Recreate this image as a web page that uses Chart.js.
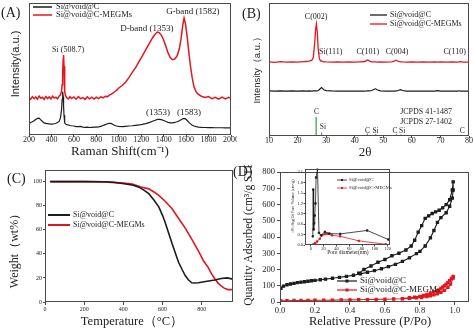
<!DOCTYPE html>
<html>
<head>
<meta charset="utf-8">
<title>Si@void@C characterisation</title>
<script src="https://cdn.jsdelivr.net/npm/chart.js@4.4.1/dist/chart.umd.min.js"></script>
<style>
  html, body { margin: 0; padding: 0; background: #fff; }
  #page { position: relative; width: 474px; height: 330px; overflow: hidden; font-family: "Liberation Serif", "Times New Roman", serif; color: #222; }
  .panel { position: absolute; }
  .tag { position: absolute; font-size: 14px; line-height: 14px; white-space: nowrap; }
</style>
</head>
<body>
<div id="page">
  <div class="panel" style="left:0;top:0;width:237px;height:165px"><canvas id="ramanChart"></canvas></div>
  <div class="panel" style="left:237px;top:0;width:237px;height:165px"><canvas id="xrdChart"></canvas></div>
  <div class="panel" style="left:0;top:165px;width:237px;height:165px"><canvas id="tgaChart"></canvas></div>
  <div class="panel" style="left:237px;top:165px;width:237px;height:165px"><canvas id="betChart"></canvas></div>
  <div class="panel" style="left:290px;top:164px;width:105px;height:94px"><canvas id="poreChart"></canvas></div>
  <div class="tag" style="left:1px;top:6px">(A)</div>
  <div class="tag" style="left:242px;top:7px">(B)</div>
  <div class="tag" style="left:7px;top:172px">(C)</div>
  <div class="tag" style="left:233px;top:165px">(D)</div>
</div>
<script>
const sampleNames = ['Si@void@C', 'Si@void@C-MEGMs'];

// (A) Raman spectra
const ramanShift = [
  200, 215, 230, 245, 260, 275, 290, 305, 320, 335,
  350, 365, 380, 395, 410, 425, 440, 455, 470, 480,
  490, 495, 500, 505, 508, 512, 516, 520, 525, 535,
  550, 565, 580, 600, 620, 640, 660, 680, 700, 720,
  740, 760, 780, 800, 820, 840, 860, 880, 900, 915,
  930, 945, 960, 980, 1000, 1030, 1060, 1090, 1120, 1150,
  1180, 1210, 1240, 1270, 1300, 1325, 1345, 1360, 1380, 1400,
  1420, 1440, 1460, 1480, 1500, 1520, 1540, 1555, 1570, 1582,
  1595, 1610, 1625, 1640, 1655, 1670, 1690, 1710, 1740, 1770,
  1800, 1830, 1860, 1890, 1920, 1950, 1980, 2000
];
const ramanMEGMs = [
  28.5, 27, 29, 27.5, 28.8, 27.2, 29.5, 27.8, 28.6, 27,
  29.2, 27.6, 28.9, 27.3, 29.4, 28, 28.7, 27.4, 29.6, 30.5,
  33, 38, 47, 58, 60.6, 52, 40, 33, 30, 28.4,
  27.3, 29, 27.6, 28.8, 27.1, 29.1, 27.5, 28.3, 27, 28.9,
  27.4, 28.6, 27.2, 28.7, 27.6, 28.9, 28.2, 29.4, 29.1, 30.2,
  30.8, 31.5, 32.6, 33.8, 35.6, 37.5, 40, 43.5, 47.5, 51,
  55.5, 60, 64.5, 69, 73.5, 76.5, 78, 77.6, 75.5, 72,
  67, 62, 58.5, 57, 57.6, 60, 65.5, 73, 83, 88.6,
  84, 74, 62, 51.5, 43, 36.5, 32.5, 30.8, 29.2, 28.4,
  29.1, 27.5, 28.6, 27.2, 28.7, 27.4, 28.5, 27.8
];
const ramanBare = [
  8.8, 9.5, 10, 10.8, 11.8, 12.6, 12.8, 11.5, 10.2, 9.2,
  8.8, 8.6, 8.4, 8.3, 8.3, 8.5, 8.9, 9.4, 10.5, 13,
  19, 27, 32.8, 29, 22, 15, 11, 9.2, 8.4, 7.8,
  7.6, 7.2, 7, 6.8, 6.4, 6.3, 6.5, 6, 5.8, 5.9,
  5.7, 5.8, 5.9, 6, 6.2, 6.5, 7.2, 7.9, 8.5, 8.9,
  8.8, 8.2, 7.4, 6.8, 6.5, 6.4, 6.6, 6.8, 7, 7.3,
  7.6, 8, 8.6, 9.4, 10.4, 11.2, 11.8, 11.9, 11.6, 11,
  10.2, 9.6, 9.2, 9.2, 9.5, 10, 10.8, 11.6, 12.3, 12.6,
  12.2, 11, 9.6, 8.4, 7.4, 6.8, 6.3, 6, 5.8, 5.7,
  5.6, 5.6, 5.5, 5.5, 5.5, 5.4, 5.4, 5.4
];
const ramanTicks = [200, 400, 600, 800, 1000, 1200, 1400, 1600, 1800, 2000];

// (B) XRD patterns and reference cards
const twoTheta = [
  10, 12, 14, 16, 18, 20, 22, 23, 24, 25,
  25.5, 26, 26.3, 26.6, 26.9, 27.2, 27.6, 28, 28.4, 28.8,
  29.3, 30, 32, 34, 36, 38, 40, 42, 43.5, 44.2,
  44.6, 45.2, 46, 46.8, 47.3, 47.8, 49, 51, 53, 54,
  54.5, 55, 55.6, 56.1, 56.7, 58, 60, 62, 64, 66,
  68, 69, 70, 72, 74, 76, 76.5, 77, 78, 80
];
const xrdMEGMs = [
  55.8, 55.4, 55.9, 55.5, 55.8, 55.6, 55.9, 56, 56.3, 57,
  59, 70, 80, 84.2, 78, 66, 58.5, 56.5, 56.4, 56,
  55.8, 55.7, 55.6, 55.8, 55.5, 55.7, 55.6, 55.8, 56, 56.8,
  57.2, 56.3, 55.8, 55.7, 55.8, 55.6, 55.7, 55.6, 55.8, 56.4,
  57, 56.4, 55.9, 55.8, 55.7, 55.6, 55.7, 55.6, 55.7, 55.6,
  55.7, 55.6, 55.7, 55.6, 55.7, 55.6, 55.7, 55.9, 55.6, 55.5
];
const xrdBare = [
  33.9, 33.8, 33.9, 33.8, 33.9, 33.8, 33.9, 33.8, 33.9, 33.8,
  33.9, 33.9, 34, 34, 34, 34.2, 34.8, 35.8, 36.4, 35.6,
  34.6, 34.1, 33.9, 33.8, 33.8, 33.7, 33.8, 33.8, 33.8, 33.9,
  34, 33.9, 34.2, 35.2, 35.5, 34.8, 34, 33.8, 33.8, 33.8,
  33.9, 34, 34.6, 34.8, 34.2, 33.8, 33.8, 33.8, 33.7, 33.8,
  33.8, 34.1, 33.8, 33.7, 33.8, 33.8, 34, 33.8, 33.7, 33.7
];
const cardCPos = [26.5, 44.4, 54.6, 77.2];      // JCPDS 41-1487
const cardCHeight = [14.5, 1.8, 1.3, 0.8];
const cardSiPos = [28.4, 47.3, 56.1];           // JCPDS 27-1402
const cardSiHeight = [2.6, 1.5, 1.1];
const xrdTicks = [10, 20, 30, 40, 50, 60, 70, 80];

// (C) TGA curves
const tgaTempBare = [25, 100, 200, 300, 350, 413, 450, 480, 505, 530, 555, 581, 600, 615, 632, 648, 665, 682, 700, 716, 732, 749, 765, 783, 820, 867, 900, 930, 960];
const tgaBare = [100, 100, 100, 99.9, 99.5, 98, 97, 95.4, 93, 90, 85, 79, 72, 65.5, 57, 49, 41, 33, 27, 22, 18.5, 16, 15.8, 16, 17, 18.3, 19.5, 20, 19];
const tgaTempMEGMs = [30, 200, 300, 400, 446, 490, 530, 560, 581, 615, 648, 680, 716, 750, 783, 810, 833, 850, 867, 885, 900, 915, 934, 960];
const tgaMEGMs = [100, 100, 99.8, 98.8, 98, 95.5, 94, 91, 88.6, 83.5, 77.7, 70, 61.4, 52, 42.4, 34, 28.8, 23.5, 19.3, 15.5, 13.3, 11.5, 10.3, 10.3];
const tgaXTicks = [0, 200, 400, 600, 800];
const tgaYTicks = [0, 20, 40, 60, 80, 100];

// (D) N2 isotherms: adsorption then desorption branch
const adsPBare = [0.005, 0.02, 0.04, 0.06, 0.08, 0.1, 0.12, 0.14, 0.16, 0.18, 0.2, 0.23, 0.26, 0.3, 0.34, 0.38, 0.42, 0.46, 0.5, 0.54, 0.58, 0.62, 0.66, 0.7, 0.74, 0.78, 0.8, 0.83, 0.86, 0.88, 0.9, 0.92, 0.95, 0.97, 0.985, 0.99];
const adsQBare = [85, 98, 106, 111, 115, 119, 122, 125, 128, 131, 133, 137, 141, 146, 152, 158, 165, 173, 183, 193, 205, 218, 232, 250, 272, 298, 312, 345, 395, 440, 490, 520, 550, 590, 640, 690];
const desPBare = [0.99, 0.985, 0.97, 0.95, 0.93, 0.91, 0.89, 0.87, 0.85, 0.83, 0.81, 0.79, 0.77, 0.75, 0.72, 0.68, 0.64, 0.6, 0.56, 0.52, 0.48, 0.45];
const desQBare = [740, 690, 630, 600, 580, 565, 555, 545, 530, 515, 470, 430, 380, 345, 320, 300, 285, 262, 245, 222, 200, 178];
const adsPMEGMs = [0.005, 0.04, 0.08, 0.12, 0.16, 0.2, 0.25, 0.3, 0.35, 0.4, 0.45, 0.5, 0.55, 0.6, 0.65, 0.7, 0.74, 0.78, 0.81, 0.84, 0.86, 0.88, 0.9, 0.92, 0.94, 0.96, 0.975, 0.99];
const adsQMEGMs = [7, 8, 9, 9.5, 10, 10.5, 11, 11.5, 12, 13, 14, 15, 16, 17, 18.5, 20, 22, 25, 28, 33, 38, 44, 51, 60, 72, 90, 110, 148];
const desPMEGMs = [0.99, 0.98, 0.97, 0.96, 0.95, 0.94, 0.93, 0.92, 0.9, 0.88, 0.86, 0.84, 0.82, 0.8, 0.77, 0.74, 0.7];
const desQMEGMs = [158, 145, 132, 120, 110, 100, 92, 84, 72, 62, 54, 46, 40, 35, 30, 26, 21];
const betXTicks = [0, 0.2, 0.4, 0.6, 0.8, 1.0];
const betYTicks = [0, 100, 200, 300, 400, 500, 600, 700, 800];

// (D) inset: BJH pore size distribution
const poreDiaBare = [3.2, 3.8, 4.5, 5.2, 6.2, 7.3, 8.3, 10.5, 12.8, 16, 22, 29, 46, 88, 121];
const poreVolBare = [0.25, 1.6, 0.45, 0.62, 0.85, 1.2, 1.95, 2.2, 0.35, 0.28, 0.38, 0.33, 0.32, 0.42, 0.16];
const poreDiaMEGMs = [3.2, 5, 7, 10, 14, 18, 22, 26, 33, 46, 75, 117];
const poreVolMEGMs = [0.01, 0.02, 0.05, 0.1, 0.18, 0.28, 0.32, 0.32, 0.28, 0.25, 0.12, 0.02];
const poreXTicks = [0, 20, 40, 60, 80, 100, 120];
const poreYTicks = [0, 0.3, 0.6, 0.9, 1.2, 1.5, 1.8, 2.1];

const SERIF = '"Liberation Serif", "Times New Roman", serif';
const SANS = '"Liberation Sans", Arial, sans-serif';
const INK = '#222';
const FRAME = '#4a4a4a';
const BLACK = '#1c1c1c';
const RED = '#e3161d';
const GREEN = '#33a043';
const BLUE = '#6d7fd8';

function pts(xs, ys) {
  return xs.map((x, i) => ({ x: x, y: ys[i] }));
}

// vertical reference sticks, separated by gaps
function sticks(pos, heights) {
  const out = [];
  pos.forEach((p, i) => { out.push({ x: p, y: 0 }, { x: p, y: heights[i] }, { x: p, y: null }); });
  return out;
}

function font(size, family) {
  return size + 'px ' + (family || SERIF);
}

function axis(cfg) {
  return {
    type: 'linear',
    min: cfg.min,
    max: cfg.max,
    afterFit: s => { if (s.isHorizontal()) s.height = cfg.size; else s.width = cfg.size; },
    afterBuildTicks: s => { s.ticks = (cfg.ticks || []).map(v => ({ value: v })); },
    grid: { drawOnChartArea: false, drawTicks: !!cfg.ticks, tickLength: cfg.tickLength ?? 2, color: FRAME },
    border: { display: false },
    ticks: {
      display: !!cfg.ticks,
      font: { family: SERIF, size: cfg.font || 8 },
      color: INK,
      padding: cfg.padding ?? 0,
      maxRotation: 0,
      autoSkip: false,
      callback: cfg.format || (v => String(v))
    }
  };
}

function options(pad, xAxis, yAxis) {
  return {
    responsive: true,
    maintainAspectRatio: false,
    animation: false,
    layout: { padding: pad },
    plugins: { legend: { display: false }, tooltip: { enabled: false } },
    elements: { point: { radius: 0 }, line: { tension: 0 } },
    scales: { x: axis(xAxis), y: axis(yAxis) }
  };
}

// box around the plotting area
const framePlugin = {
  id: 'frame',
  afterDraw(chart) {
    const a = chart.chartArea;
    const ctx = chart.ctx;
    ctx.save();
    ctx.strokeStyle = FRAME;
    ctx.lineWidth = 1;
    ctx.strokeRect(Math.round(a.left) + 0.5, Math.round(a.top) + 0.5, Math.round(a.right - a.left) - 1, Math.round(a.bottom - a.top) - 1);
    ctx.restore();
  }
};

// text items: `at` in data units, or px/py in canvas pixels
function textLayer(items) {
  return {
    id: 'textLayer',
    afterDraw(chart) {
      const ctx = chart.ctx;
      items.forEach(t => {
        const x = t.at ? chart.scales.x.getPixelForValue(t.at[0]) : t.px;
        const y = t.at ? chart.scales.y.getPixelForValue(t.at[1]) : t.py;
        ctx.save();
        ctx.font = t.font;
        ctx.fillStyle = t.color || INK;
        ctx.textAlign = t.align || 'center';
        ctx.textBaseline = 'middle';
        ctx.translate(x, y);
        if (t.rotate) ctx.rotate(t.rotate);
        ctx.fillText(t.text, 0, 0);
        ctx.restore();
      });
    }
  };
}

function keyBox(k) {
  return {
    id: 'keyBox',
    afterDraw(chart) {
      const ctx = chart.ctx;
      ctx.save();
      k.colors.forEach((c, i) => {
        const y = k.y + i * k.gap;
        ctx.strokeStyle = c;
        ctx.lineWidth = k.width;
        ctx.beginPath();
        ctx.moveTo(k.x, y);
        ctx.lineTo(k.x + k.len, y);
        ctx.stroke();
        if (k.marker) {
          ctx.fillStyle = c;
          ctx.fillRect(k.x + k.len / 2 - k.marker / 2, y - k.marker / 2, k.marker, k.marker);
        }
        ctx.fillStyle = INK;
        ctx.font = k.font;
        ctx.textAlign = 'left';
        ctx.textBaseline = 'middle';
        ctx.fillText(sampleNames[i], k.x + k.len + k.pad, y);
      });
      ctx.restore();
    }
  };
}

const UP = -Math.PI / 2;

// (A) Raman
new Chart(document.getElementById('ramanChart'), {
  type: 'line',
  data: {
    datasets: [
      { label: sampleNames[0], data: pts(ramanShift, ramanBare), borderColor: BLACK, borderWidth: 1.2 },
      { label: sampleNames[1], data: pts(ramanShift, ramanMEGMs), borderColor: RED, borderWidth: 1.5 }
    ]
  },
  options: options({ top: 3, right: 6, left: 0, bottom: 0 },
    { min: 200, max: 2000, size: 30, ticks: ramanTicks, font: 8, tickLength: 2, padding: -2 },
    { min: 0, max: 100, size: 29 }),
  plugins: [framePlugin, keyBox({ x: 33, y: 7, gap: 8, len: 19, width: 1.5, pad: 4, font: font(8.5), colors: [BLACK, RED] }),
    textLayer([
      { text: 'Si (508.7)', at: [548, 64.5], font: font(8) },
      { text: 'D-band (1353)', at: [1251, 80.3], font: font(9) },
      { text: 'G-band (1582)', at: [1661, 93.2], font: font(9) },
      { text: '(1353)', at: [1349, 16.7], font: font(9) },
      { text: '(1583)', at: [1626, 16.7], font: font(9) },
      { text: 'Raman Shift(cm⁻¹)', px: 120, py: 152, font: font(13) },
      { text: 'Intensity(a.u.)', px: 16, py: 64, font: font(11, SANS), rotate: UP }
    ])]
});

// (B) XRD
new Chart(document.getElementById('xrdChart'), {
  type: 'line',
  data: {
    datasets: [
      { label: sampleNames[0], data: pts(twoTheta, xrdBare), borderColor: BLACK, borderWidth: 1.2 },
      { label: sampleNames[1], data: pts(twoTheta, xrdMEGMs), borderColor: RED, borderWidth: 1.3 },
      { label: 'C', data: sticks(cardCPos, cardCHeight), borderColor: GREEN, borderWidth: 1.2, spanGaps: false },
      { label: 'Si', data: sticks(cardSiPos, cardSiHeight), borderColor: BLUE, borderWidth: 1.2, spanGaps: false }
    ]
  },
  options: options({ top: 3, right: 5, left: 0, bottom: 0 },
    { min: 10, max: 80, size: 29, ticks: xrdTicks, font: 8, tickLength: 2, padding: -2 },
    { min: 0, max: 100, size: 32 }),
  plugins: [framePlugin, keyBox({ x: 133, y: 15, gap: 9, len: 17, width: 1.3, pad: 3, font: font(8), colors: [BLACK, RED] }),
    textLayer([
      { text: 'C(002)', at: [26.5, 89.7], font: font(8) },
      { text: 'Si(111)', at: [31.6, 63.4], font: font(8) },
      { text: 'C(101)', at: [44.6, 63.4], font: font(8) },
      { text: 'C(004)', at: [54.8, 63.4], font: font(8) },
      { text: 'C(110)', at: [75, 63.4], font: font(8) },
      { text: 'C', at: [26.6, 18.3], font: font(7.5) },
      { text: 'Si', at: [28.9, 7], font: font(7.5) },
      { text: 'C', at: [44.5, 3.8], font: font(7.5) },
      { text: 'Si', at: [47.3, 3.8], font: font(7.5) },
      { text: 'C', at: [54.1, 3.8], font: font(7.5) },
      { text: 'Si', at: [56.6, 3.8], font: font(7.5) },
      { text: 'C', at: [77.6, 3.8], font: font(7.5) },
      { text: 'JCPDS 41-1487', at: [55.9, 18], font: font(8), align: 'left' },
      { text: 'JCPDS 27-1402', at: [55.9, 10.5], font: font(8), align: 'left' },
      { text: '2θ', px: 128, py: 153, font: font(13) },
      { text: 'Intensity（a.u.）', px: 20, py: 68, font: font(9.5, SANS), rotate: UP }
    ])]
});

// (C) TGA
new Chart(document.getElementById('tgaChart'), {
  type: 'line',
  data: {
    datasets: [
      { label: sampleNames[0], data: pts(tgaTempBare, tgaBare), borderColor: BLACK, borderWidth: 1.6 },
      { label: sampleNames[1], data: pts(tgaTempMEGMs, tgaMEGMs), borderColor: RED, borderWidth: 1.6 }
    ]
  },
  options: options({ top: 2, right: 4, left: 0, bottom: 0 },
    { min: 0, max: 960, size: 28, ticks: tgaXTicks, font: 6, tickLength: 3, padding: 1 },
    { min: 0, max: 110, size: 45, ticks: tgaYTicks, font: 6, tickLength: 2, padding: 1 }),
  plugins: [framePlugin, keyBox({ x: 48, y: 50, gap: 10, len: 22, width: 2, pad: 3, font: font(8), colors: [BLACK, RED] }),
    textLayer([
      { text: 'Temperature（°C）', px: 132, py: 157, font: font(12.5) },
      { text: 'Weight（wt%）', px: 15, py: 83, font: font(12), rotate: UP }
    ])]
});

// (D) N2 adsorption-desorption isotherms
new Chart(document.getElementById('betChart'), {
  type: 'line',
  data: {
    datasets: [
      { label: sampleNames[0], data: pts(adsPBare, adsQBare).concat(pts(desPBare, desQBare)), borderColor: BLACK, backgroundColor: BLACK, borderWidth: 1.1, pointStyle: 'rect', pointRadius: 1.6 },
      { label: sampleNames[1], data: pts(adsPMEGMs, adsQMEGMs).concat(pts(desPMEGMs, desQMEGMs)), borderColor: RED, backgroundColor: RED, borderWidth: 1.1, pointStyle: 'rect', pointRadius: 1.6 }
    ]
  },
  options: options({ top: 0, right: 5, left: 0, bottom: 0 },
    { min: 0, max: 1.08, size: 28, ticks: betXTicks, font: 8.5, tickLength: 3, padding: 1, format: v => v.toFixed(1) },
    { min: 0, max: 800, size: 43, ticks: betYTicks, font: 8.5, tickLength: 3, padding: 2 }),
  plugins: [framePlugin, keyBox({ x: 100, y: 116, gap: 9, len: 20, width: 1.2, pad: 3, marker: 3, font: font(9), colors: [BLACK, RED] }),
    textLayer([
      { text: 'Relative Pressure (P/Po)', px: 133, py: 157, font: font(12.5) },
      { text: 'Quantity Adsorbed (cm³/g STP)', px: 12, py: 67, font: font(11.5), rotate: UP }
    ])]
});

// (D) inset: pore size distribution
new Chart(document.getElementById('poreChart'), {
  type: 'line',
  data: {
    datasets: [
      { label: sampleNames[0], data: pts(poreDiaBare, poreVolBare), borderColor: BLACK, backgroundColor: BLACK, borderWidth: 0.8, pointStyle: 'rect', pointRadius: 1.1 },
      { label: sampleNames[1], data: pts(poreDiaMEGMs, poreVolMEGMs), borderColor: RED, backgroundColor: RED, borderWidth: 0.8, pointStyle: 'rect', pointRadius: 1.1 }
    ]
  },
  options: options({ top: 3, right: 4, left: 0, bottom: 0 },
    { min: -9, max: 124, size: 13, ticks: poreXTicks, font: 4.5, tickLength: 1.5, padding: 0 },
    { min: 0, max: 2.2, size: 15, ticks: poreYTicks, font: 4.5, tickLength: 1.5, padding: 0.5, format: v => v.toFixed(1) }),
  plugins: [framePlugin, keyBox({ x: 47, y: 16, gap: 8, len: 10, width: 0.8, pad: 2, marker: 2, font: font(4.8), colors: [BLACK, RED] }),
    textLayer([
      { text: 'Pore diameter(nm)', px: 58, py: 89, font: font(5.5) },
      { text: 'dV/dlog(D) Pore Volume (cm³/g)', px: 3, py: 42, font: font(4), rotate: UP }
    ])]
});
</script>
</body>
</html>
